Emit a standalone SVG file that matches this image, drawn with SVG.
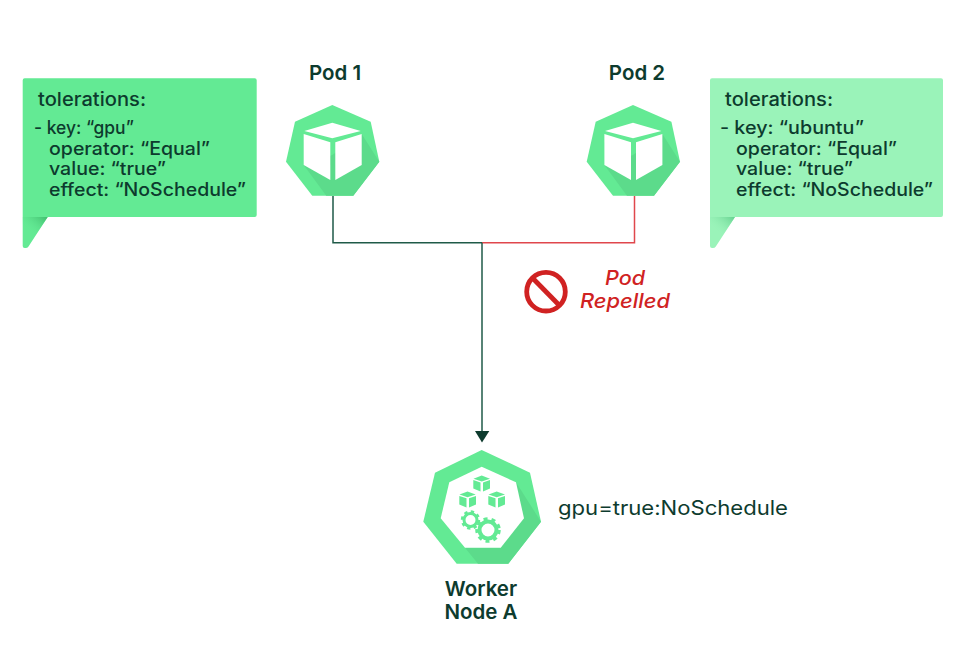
<svg xmlns="http://www.w3.org/2000/svg" width="977" height="658" viewBox="0 0 977 658">
<style>
text{font-family:"Inter","Liberation Sans",sans-serif;fill:#0d3b2e;font-weight:500}
.b{font-size:18px;font-weight:500}
.h{font-size:20.5px;font-weight:600}
.r{font-size:20px;font-style:italic;fill:#d02222;text-anchor:middle;font-weight:500}
.g{fill:#63ea94}
.s{fill:#5cdb8b}
.w{fill:#fff}
.l{fill:none;stroke-width:1.5}
</style>
<defs>
<linearGradient id="t" x1="1" y1="0" x2="0.200" y2="0.700"><stop offset="0" stop-color="#3fbb6c"/><stop offset="1" stop-color="#63ea94" stop-opacity="0"/></linearGradient>
<linearGradient id="t2" x1="1" y1="0" x2="0.200" y2="0.700"><stop offset="0" stop-color="#63d08e"/><stop offset="1" stop-color="#9af3b9" stop-opacity="0"/></linearGradient>
<g id="pod">
<path class="g" d="M0 0L38.4 16.7L47 56.7L21 90.7H-20L-46.3 56.7L-37.3 16.7Z"/>
<path class="s" d="M29.400 29L47 56.7L21 90.7H-6L-28.600 60L0 50Z"/>
<path class="w" d="M0 17.7L28.4 26L0 33.3L-28 26Z"/>
<path class="w" d="M-28.6 29L-2 37.3V75L-28.6 60Z"/>
<path class="w" d="M3 37.3L29.4 29V60L3 75Z"/>
</g>
</defs>
<g id="connectors">
<path class="l" stroke="#e0474c" d="M482 242.7H634.5V196"/>
<path class="l" stroke="#1f5a48" d="M333 196V242.7H482"/>
<path class="l" stroke="#1f5a48" d="M482 242.7V433"/>
<path fill="#0d3b2e" d="M475 431H489.3L482 442.5Z"/>
</g>
<g id="bubble-left">
<path class="g" d="M25 78.3H254.7a2 2 0 0 1 2 2V215a2 2 0 0 1-2 2H47.7L28.5 246.5q-1 1.5-3 1.500h-.8a2 2 0 0 1-2-2V80.3a2 2 0 0 1 2-2Z"/>
<path fill="url(#t)" d="M22.7 217H47.7L35 236H22.7Z"/>
<text class="b" x="38" y="105.700" style="font-size:18.500px" textLength="108" lengthAdjust="spacingAndGlyphs">tolerations:</text>
<text class="b" x="34" y="133.500" textLength="100" lengthAdjust="spacingAndGlyphs">- key: “gpu”</text>
<text class="b" x="49" y="155" textLength="161" lengthAdjust="spacingAndGlyphs">operator: “Equal”</text>
<text class="b" x="49" y="175" textLength="117" lengthAdjust="spacingAndGlyphs">value: “true”</text>
<text class="b" x="49" y="196" textLength="197" lengthAdjust="spacingAndGlyphs">effect: “NoSchedule”</text>
</g>
<g id="bubble-right">
<path fill="#9af3b9" d="M712 78.3H941a2 2 0 0 1 2 2V215a2 2 0 0 1-2 2H735L715.800 246.500q-1 1.500-3 1.500h-.8a2 2 0 0 1-2-2V80.300a2 2 0 0 1 2-2Z"/>
<path fill="url(#t2)" d="M710 217H735L722.300 236H710Z"/>
<text class="b" x="725" y="105.700" style="font-size:18.500px" textLength="108" lengthAdjust="spacingAndGlyphs">tolerations:</text>
<text class="b" x="720" y="133.500" textLength="144" lengthAdjust="spacingAndGlyphs">- key: “ubuntu”</text>
<text class="b" x="736" y="155" textLength="161" lengthAdjust="spacingAndGlyphs">operator: “Equal”</text>
<text class="b" x="736" y="175" textLength="117" lengthAdjust="spacingAndGlyphs">value: “true”</text>
<text class="b" x="736" y="196" textLength="197" lengthAdjust="spacingAndGlyphs">effect: “NoSchedule”</text>
</g>
<g id="pod-1">
<text class="h" x="335" y="79.500" text-anchor="middle">Pod 1</text>
<use href="#pod" x="332.300" y="105"/>
</g>
<g id="pod-2">
<text class="h" x="637" y="79.500" text-anchor="middle">Pod 2</text>
<use href="#pod" x="633" y="105"/>
</g>
<g id="repelled">
<circle cx="546" cy="291.700" r="19.300" fill="none" stroke="#d02222" stroke-width="4.800"/>
<path d="M533 278.500L559 305" stroke="#d02222" stroke-width="4.800"/>
<text class="r" x="625" y="285" textLength="40" lengthAdjust="spacingAndGlyphs">Pod</text>
<text class="r" x="625" y="308" textLength="90" lengthAdjust="spacingAndGlyphs">Repelled</text>
</g>
<g id="worker-node-a">
<path class="g" d="M481.700 450L530 472.700L541 521.700L508.300 563.700H456.700L423.300 521.700L435 472.700Z"/>
<path class="s" d="M516 482.300L541 521.700L508.300 563.700H478L465 547.700H500.700Z"/>
<path class="w" d="M481.700 466.700L516 482.300L524 518.300L500.700 547.700H465L440.700 518.300L449.300 482.300Z"/>
<g class="g">
<path d="M481.700 475.500L490 478.700L481.700 481.500L473.500 478.700Z"/>
<path d="M473.300 480L480.500 482.500V491.500L473.300 488.500Z"/>
<path d="M483 482.500L490 480V488.500L483 491.500Z"/>
<path d="M467.500 491.500L475.700 494.500L467.500 497.300L459.500 494.500Z"/>
<path d="M459.300 496L466.500 498.300V507.500L459.300 504.500Z"/>
<path d="M469 498.300L476 496V504.500L469 507.500Z"/>
<path d="M496.700 491.500L505 494.500L496.700 497.300L488.500 494.500Z"/>
<path d="M488.300 496L495.500 498.300V507.500L488.300 504.500Z"/>
<path d="M498 498.300L505 496V504.500L498 507.500Z"/>
</g>
<g fill="none" stroke="#63ea94">
<circle cx="470.500" cy="520" r="6.500" stroke-width="3"/>
<circle cx="470.500" cy="520" r="8.200" stroke-width="3" stroke-dasharray="3.200 3.240"/>
<circle cx="488" cy="530" r="8.500" stroke-width="4"/>
<circle cx="488" cy="530" r="11" stroke-width="3.500" stroke-dasharray="3.900 3.960"/>
</g>
<text class="h" x="481" y="596" text-anchor="middle">Worker</text>
<text class="h" x="481" y="619" text-anchor="middle">Node A</text>
</g>
<g id="taint-label">
<text x="558" y="515" font-size="20" textLength="230" lengthAdjust="spacingAndGlyphs" style="font-weight:400">gpu=true:NoSchedule</text>
</g>
</svg>
